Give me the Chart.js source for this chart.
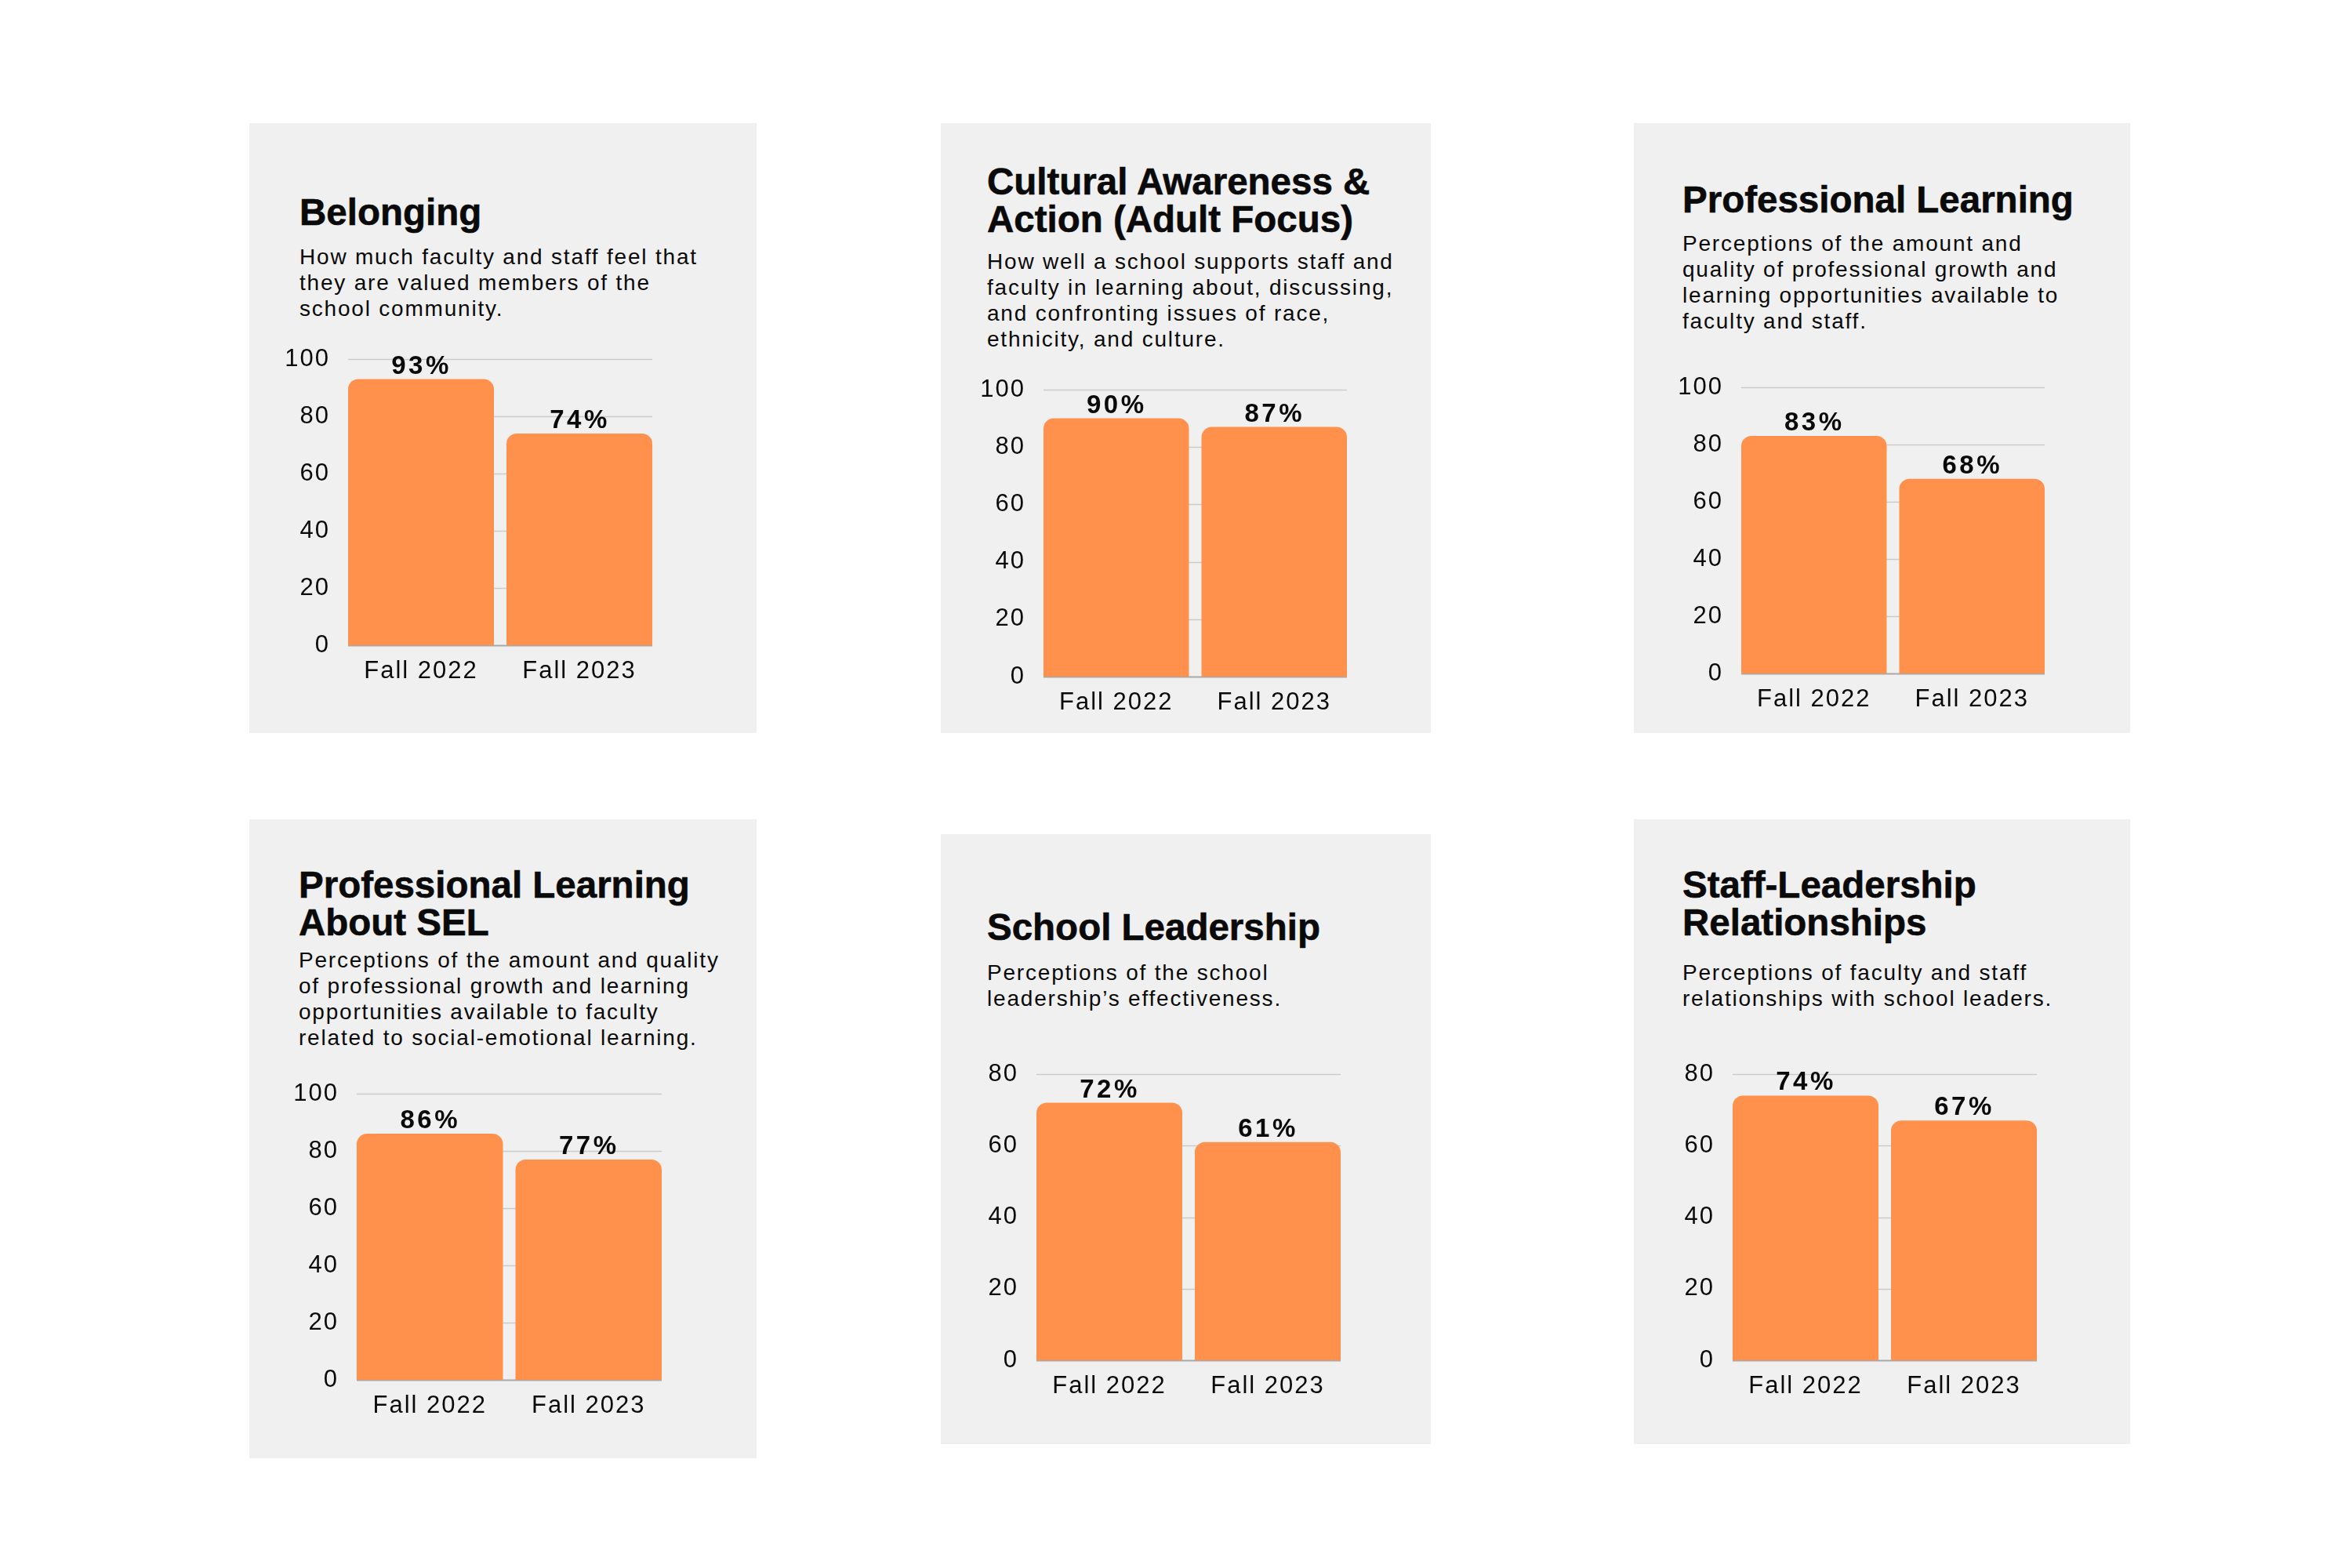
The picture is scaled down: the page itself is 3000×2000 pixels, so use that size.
<!DOCTYPE html>
<html>
<head>
<meta charset="utf-8">
<script src="https://cdn.jsdelivr.net/npm/chart.js@4.4.1/dist/chart.umd.min.js"></script>
<style>
  html, body { margin: 0; padding: 0; background: #fff; }
  body { width: 3000px; height: 2000px; position: relative; overflow: hidden; font-family: "Liberation Sans", Arial, sans-serif; color: #0a0a0a; }
  .panel { position: absolute; background: #f0f0f0; }
  .title { position: absolute; font-weight: bold; font-size: 47.5px; line-height: 48px; white-space: nowrap; -webkit-text-stroke: 0.6px #0a0a0a; }
  .sub { position: absolute; font-size: 28px; line-height: 33px; letter-spacing: 1.8px; white-space: nowrap; }
  canvas { position: absolute; }
</style>
</head>
<body>
<script>
const categories = ["Fall 2022", "Fall 2023"];

const belonging = [93, 74];
const culturalAwareness = [90, 87];
const professionalLearning = [83, 68];
const professionalLearningSEL = [86, 77];
const schoolLeadership = [72, 61];
const staffLeadership = [74, 67];

const titles = [
  ["Belonging"],
  ["Cultural Awareness &", "Action (Adult Focus)"],
  ["Professional Learning"],
  ["Professional Learning", "About SEL"],
  ["School Leadership"],
  ["Staff-Leadership", "Relationships"]
];
const subtitles = [
  ["How much faculty and staff feel that", "they are valued members of the", "school community."],
  ["How well a school supports staff and", "faculty in learning about, discussing,", "and confronting issues of race,", "ethnicity, and culture."],
  ["Perceptions of the amount and", "quality of professional growth and", "learning opportunities available to", "faculty and staff."],
  ["Perceptions of the amount and quality", "of professional growth and learning", "opportunities available to faculty", "related to social-emotional learning."],
  ["Perceptions of the school", "leadership\u2019s effectiveness."],
  ["Perceptions of faculty and staff", "relationships with school leaders."]
];
const seriesList = [belonging, culturalAwareness, professionalLearning, professionalLearningSEL, schoolLeadership, staffLeadership];
const yMax = [100, 100, 100, 100, 80, 80];

// layout of each card (page pixels); plot = outer bar edges and y of max / zero
const cards = [
  { box: [318, 157, 647, 778], text: [382, 247, 311], plot: [444, 832, 458, 823] },
  { box: [1200, 157, 625, 778], text: [1259, 208, 317], plot: [1331, 1718, 497, 863] },
  { box: [2084, 157, 633, 778], text: [2146, 231, 294], plot: [2221, 2608, 494, 859] },
  { box: [318, 1045, 647, 815], text: [381, 1105, 1208], plot: [455, 844, 1395, 1760] },
  { box: [1200, 1064, 625, 778], text: [1259, 1159, 1224], plot: [1322, 1710, 1370, 1735] },
  { box: [2084, 1045, 633, 797], text: [2146, 1105, 1224], plot: [2210, 2598, 1370, 1735] }
];

const EDGE = 8; // category slack at each side, bars sit flush with the grid ends
const AXIS_W = 100, PAD_T = 60, AXIS_H = 60, PAD_R = 20;

const spacingPlugin = {
  id: "spacing",
  beforeUpdate(chart) { chart.ctx.letterSpacing = "2px"; },
  beforeDraw(chart) { chart.ctx.letterSpacing = "2px"; }
};

// grid lines spanning only the bars' extent, plus darker baseline
const barGrid = {
  id: "barGrid",
  beforeDatasetsDraw(chart) {
    const ctx = chart.ctx;
    const bars = chart.getDatasetMeta(0).data;
    const first = bars[0], last = bars[bars.length - 1];
    const x0 = first.x - first.width / 2;
    const x1 = last.x + last.width / 2;
    const yScale = chart.scales.y;
    ctx.save();
    yScale.ticks.forEach(t => {
      const y = Math.round(yScale.getPixelForValue(t.value)) + 0.5;
      ctx.beginPath();
      ctx.lineWidth = t.value === 0 ? 2 : 1.5;
      ctx.strokeStyle = t.value === 0 ? "#a8a8a8" : "#cbcbcb";
      ctx.moveTo(x0, y);
      ctx.lineTo(x1, y);
      ctx.stroke();
    });
    ctx.restore();
  }
};

const valueLabels = {
  id: "valueLabels",
  afterDatasetsDraw(chart) {
    const ctx = chart.ctx;
    const meta = chart.getDatasetMeta(0);
    ctx.save();
    ctx.letterSpacing = "3.5px";
    ctx.font = "bold 33px 'Liberation Sans', Arial, sans-serif";
    ctx.fillStyle = "#0a0a0a";
    ctx.textAlign = "center";
    ctx.textBaseline = "alphabetic";
    meta.data.forEach((bar, i) => {
      const v = chart.data.datasets[0].data[i];
      ctx.fillText(v + "%", bar.x + 0.5, bar.y - 7);
    });
    ctx.restore();
  }
};

cards.forEach((c, k) => {
  const panel = document.createElement("div");
  panel.className = "panel";
  panel.style.left = c.box[0] + "px";
  panel.style.top = c.box[1] + "px";
  panel.style.width = c.box[2] + "px";
  panel.style.height = c.box[3] + "px";
  document.body.appendChild(panel);

  const t = document.createElement("div");
  t.className = "title";
  t.style.left = c.text[0] + "px";
  t.style.top = c.text[1] + "px";
  t.innerHTML = titles[k].join("<br>");
  document.body.appendChild(t);

  const s = document.createElement("div");
  s.className = "sub";
  s.style.left = c.text[0] + "px";
  s.style.top = c.text[2] + "px";
  s.innerHTML = subtitles[k].join("<br>");
  document.body.appendChild(s);

  const pl = c.plot[0] - EDGE, pr = c.plot[1] + EDGE, pt = c.plot[2], pb = c.plot[3];
  const catW = (pr - pl) / categories.length;
  const barPct = (catW - 2 * EDGE) / catW;

  const cv = document.createElement("canvas");
  const w = AXIS_W + (pr - pl) + PAD_R;
  const h = PAD_T + (pb - pt) + AXIS_H;
  cv.width = w; cv.height = h;
  cv.style.left = (pl - AXIS_W) + "px";
  cv.style.top = (pt - PAD_T) + "px";
  cv.style.width = w + "px"; cv.style.height = h + "px";
  document.body.appendChild(cv);

  new Chart(cv, {
    type: "bar",
    data: {
      labels: categories,
      datasets: [{
        data: seriesList[k],
        backgroundColor: "#ff914d",
        borderRadius: 13,
        borderSkipped: "start",
        barPercentage: barPct,
        categoryPercentage: 1.0
      }]
    },
    options: {
      responsive: false,
      animation: false,
      devicePixelRatio: 1,
      layout: { padding: { top: PAD_T, right: PAD_R, left: 0, bottom: 0 } },
      plugins: { legend: { display: false }, tooltip: { enabled: false } },
      scales: {
        x: {
          grid: { display: false, drawTicks: false },
          border: { display: false },
          ticks: { color: "#0a0a0a", padding: 15, font: { family: "'Liberation Sans', Arial, sans-serif", size: 31 } },
          afterFit: (scale) => { scale.height = AXIS_H; }
        },
        y: {
          min: 0,
          max: yMax[k],
          ticks: { stepSize: 20, color: "#0a0a0a", padding: 25 - EDGE - 2, font: { family: "'Liberation Sans', Arial, sans-serif", size: 31 } },
          grid: { display: false, drawTicks: false },
          border: { display: false },
          afterFit: (scale) => { scale.width = AXIS_W; }
        }
      }
    },
    plugins: [spacingPlugin, barGrid, valueLabels]
  });
});
</script>
</body>
</html>
